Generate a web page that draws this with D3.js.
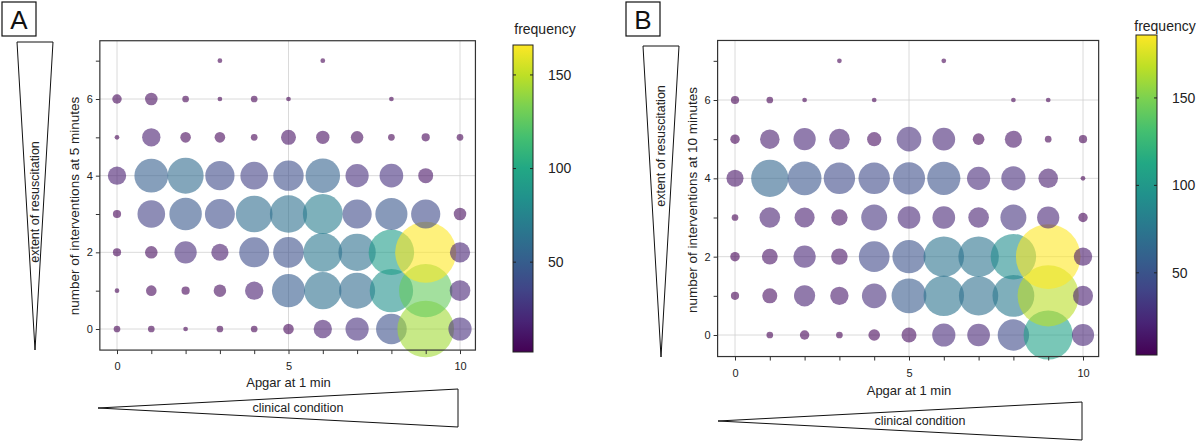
<!DOCTYPE html>
<html>
<head>
<meta charset="utf-8">
<script src="https://cdn.jsdelivr.net/npm/d3@7"></script>
<style>
  body { margin: 0; background: #fff; }
  svg { display: block; font-family: "Liberation Sans", Arial, sans-serif; }
</style>
</head>
<body>
<svg id="chart" width="1200" height="441"></svg>
<script>
// Apgar score at 1 min (x) and number of interventions (y)
const apgarScores = [0, 1, 2, 3, 4, 5, 6, 7, 8, 9, 10]
const interventionCounts = [0, 1, 2, 3, 4, 5, 6, 7]
const xTickLabels = [0, 5, 10]
const yTickLabels = [0, 2, 4, 6]
const colorTicks = [50, 100, 150]

// frequency per cell, one row per intervention count (0 = no circle)
const freqA5min = [
  [2, 2, 1, 2, 2, 5, 15, 24, 42, 143, 24],
  [1, 5, 3, 7, 15, 49, 62, 58, 84, 127, 19],
  [3, 7, 22, 13, 40, 42, 67, 62, 92, 166, 18],
  [3, 34, 47, 40, 60, 62, 71, 38, 46, 38, 7],
  [15, 51, 58, 38, 34, 41, 53, 24, 25, 10, 0],
  [1, 15, 5, 5, 2, 10, 8, 7, 2, 3, 2],
  [4, 7, 2, 1, 2, 1, 0, 0, 1, 0, 0],
  [0, 0, 0, 1, 0, 0, 1, 0, 0, 0, 0]
]
const freqB10min = [
  [0, 2, 4, 2, 6, 10, 24, 23, 44, 108, 22],
  [3, 10, 20, 15, 27, 54, 73, 69, 78, 167, 18],
  [4, 11, 22, 12, 42, 49, 73, 73, 92, 186, 15],
  [2, 19, 18, 12, 30, 23, 23, 19, 30, 22, 4],
  [13, 62, 51, 44, 44, 46, 49, 24, 26, 17, 1],
  [4, 17, 22, 19, 9, 27, 23, 6, 13, 2, 3],
  [3, 2, 1, 0, 1, 0, 0, 0, 1, 1, 0],
  [0, 0, 0, 1, 0, 0, 1, 0, 0, 0, 0]
]
const colorDomainA = [2, 166]
const colorDomainB = [3, 186]

const svg = d3.select('#chart')
const sizeScale = d3.scaleSqrt().domain([0, 186]).range([0, 32.3])

function toCells(matrix) {
    let cells = []
    matrix.forEach((row, yi) => {
        row.forEach((v, xi) => {
            if (v > 0) cells.push({ x: apgarScores[xi], y: interventionCounts[yi], v: v })
        })
    })
    return cells
}

function drawPanel(o) {
    let g = svg.append('g')
    let x = d3.scaleLinear().domain([0, 10]).range([o.x0, o.x10])
    let y = d3.scaleLinear().domain([0, 6]).range([o.y0, o.y6])
    let color = d3.scaleSequential(d3.interpolateViridis).domain(o.colorDomain)
    let left = x(-0.5), right = x(10.45), top = y(7.52), bottom = y(-0.55)

    // grid
    g.selectAll('line.vgrid').data(xTickLabels).join('line')
        .attr('class', 'vgrid')
        .attr('x1', d => x(d)).attr('x2', d => x(d))
        .attr('y1', top).attr('y2', bottom)
        .attr('stroke', '#d0d0d0').attr('stroke-width', 0.8)
    g.selectAll('line.hgrid').data(yTickLabels).join('line')
        .attr('class', 'hgrid')
        .attr('y1', d => y(d)).attr('y2', d => y(d))
        .attr('x1', left).attr('x2', right)
        .attr('stroke', '#d0d0d0').attr('stroke-width', 0.8)

    // bubbles
    g.selectAll('circle.cell').data(toCells(o.data)).join('circle')
        .attr('class', 'cell')
        .attr('cx', d => x(d.x))
        .attr('cy', d => y(d.y))
        .attr('r', d => sizeScale(d.v))
        .attr('fill', d => color(d.v))
        .attr('fill-opacity', 0.6)

    // frame
    g.append('rect')
        .attr('x', left).attr('y', top)
        .attr('width', right - left).attr('height', bottom - top)
        .attr('fill', 'none').attr('stroke', '#333').attr('stroke-width', 1.2)

    // axes
    let xAxis = d3.axisBottom(x).tickValues(apgarScores)
        .tickFormat(d => xTickLabels.includes(d) ? d : '').tickSize(4).tickSizeOuter(0)
    let gx = g.append('g').attr('transform', `translate(0,${bottom})`).call(xAxis)
    gx.select('.domain').remove()
    gx.selectAll('text').attr('font-size', 11).attr('fill', '#222').attr('dy', '1.2em')
    gx.selectAll('line').attr('stroke', '#333')

    let yAxis = d3.axisLeft(y).tickValues(interventionCounts)
        .tickFormat(d => yTickLabels.includes(d) ? d : '').tickSize(4).tickSizeOuter(0)
    let gy = g.append('g').attr('transform', `translate(${left},0)`).call(yAxis)
    gy.select('.domain').remove()
    gy.selectAll('text').attr('font-size', 11).attr('fill', '#222')
    gy.selectAll('line').attr('stroke', '#333')

    g.append('text')
        .attr('x', (x(0) + x(10)) / 2).attr('y', o.xLabelY)
        .attr('text-anchor', 'middle').attr('font-size', 13).attr('fill', '#222')
        .text('Apgar at 1 min')
    g.append('text')
        .attr('transform', `translate(${o.yLabelX},${o.yLabelY}) rotate(-90)`)
        .attr('text-anchor', 'middle').attr('font-size', 13.5).attr('fill', '#222')
        .text(o.yLabel)

    // colour bar
    let cb = o.cbar
    let cy = d3.scaleLinear().domain(o.colorDomain).range([cb.y1, cb.y0])
    let gradId = 'grad' + o.name
    let grad = svg.append('defs').append('linearGradient')
        .attr('id', gradId).attr('x1', 0).attr('y1', 1).attr('x2', 0).attr('y2', 0)
    d3.range(0, 1.0001, 0.1).forEach(t => {
        grad.append('stop').attr('offset', t).attr('stop-color', d3.interpolateViridis(t))
    })
    g.append('rect')
        .attr('x', cb.x).attr('y', cb.y0).attr('width', cb.w).attr('height', cb.y1 - cb.y0)
        .attr('fill', `url(#${gradId})`).attr('stroke', '#222').attr('stroke-width', 1)
    g.selectAll('line.cbl').data(colorTicks).join('line')
        .attr('class', 'cbl')
        .attr('x1', cb.x).attr('x2', cb.x + 3)
        .attr('y1', d => cy(d)).attr('y2', d => cy(d)).attr('stroke', '#222')
    g.selectAll('line.cbr').data(colorTicks).join('line')
        .attr('class', 'cbr')
        .attr('x1', cb.x + cb.w - 3).attr('x2', cb.x + cb.w)
        .attr('y1', d => cy(d)).attr('y2', d => cy(d)).attr('stroke', '#222')
    g.selectAll('text.cbt').data(colorTicks).join('text')
        .attr('class', 'cbt')
        .attr('x', cb.x + cb.w + 15).attr('y', d => cy(d)).attr('dy', '0.35em')
        .attr('font-size', 14).attr('fill', '#222')
        .text(d => d)
    g.append('text')
        .attr('x', cb.titleX).attr('y', cb.titleY)
        .attr('text-anchor', 'middle').attr('font-size', 14).attr('fill', '#222')
        .text('frequency')

    // panel letter
    g.append('rect')
        .attr('x', o.letterX).attr('y', 2).attr('width', 34).attr('height', 34)
        .attr('fill', 'none').attr('stroke', '#111').attr('stroke-width', 1.2)
    g.append('text')
        .attr('x', o.letterX + 17).attr('y', 29)
        .attr('text-anchor', 'middle').attr('font-size', 26).attr('fill', '#111')
        .text(o.name)

    // wedges
    let vt = o.vTri
    g.append('path')
        .attr('d', `M${vt.cx - vt.hw},${vt.top}L${vt.cx + vt.hw},${vt.top}L${vt.cx},${vt.bottom}Z`)
        .attr('fill', 'none').attr('stroke', '#111').attr('stroke-width', 1)
    g.append('text')
        .attr('transform', `translate(${vt.cx + 4},${vt.textY}) rotate(-90)`)
        .attr('text-anchor', 'middle').attr('font-size', 12.5).attr('fill', '#222')
        .text('extent of resuscitation')
    let ht = o.hTri
    g.append('path')
        .attr('d', `M${ht.left},${ht.cy}L${ht.right},${ht.cy - ht.hh}L${ht.right},${ht.cy + ht.hh}Z`)
        .attr('fill', 'none').attr('stroke', '#111').attr('stroke-width', 1)
    g.append('text')
        .attr('x', ht.textX).attr('y', ht.cy + 4)
        .attr('text-anchor', 'middle').attr('font-size', 12.5).attr('fill', '#222')
        .text('clinical condition')
}

drawPanel({
    name: 'A', data: freqA5min, colorDomain: colorDomainA,
    x0: 117, x10: 460, y0: 329, y6: 99,
    xLabelY: 387, yLabelX: 79, yLabelY: 206,
    yLabel: 'number of interventions at 5 minutes',
    cbar: { x: 513, w: 20, y0: 45, y1: 352, titleX: 545, titleY: 34 },
    letterX: 2,
    vTri: { cx: 35, hw: 18, top: 42, bottom: 350, textY: 202 },
    hTri: { left: 98, right: 458, cy: 408, hh: 19, textX: 298 }
})

drawPanel({
    name: 'B', data: freqB10min, colorDomain: colorDomainB,
    x0: 735, x10: 1083, y0: 335, y6: 100,
    xLabelY: 395, yLabelX: 697, yLabelY: 200,
    yLabel: 'number of interventions at 10 minutes',
    cbar: { x: 1136, w: 21, y0: 35, y1: 355, titleX: 1165, titleY: 31 },
    letterX: 626,
    vTri: { cx: 661, hw: 18, top: 46, bottom: 357, textY: 146 },
    hTri: { left: 718, right: 1082, cy: 421, hh: 19, textX: 920 }
})
</script>
</body>
</html>
